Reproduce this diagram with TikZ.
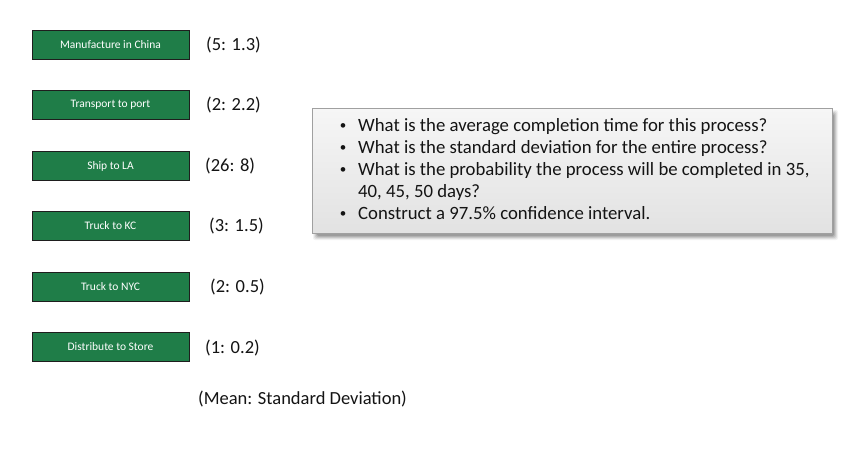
\documentclass[tikz,border=0pt]{standalone}
\usepackage{fontspec}
\setmainfont{Carlito}
\definecolor{boxgreen}{RGB}{31,125,72}
\definecolor{boxline}{RGB}{30,30,30}
\definecolor{callborder}{RGB}{160,160,160}
\definecolor{calltop}{RGB}{246,246,246}
\definecolor{callbot}{RGB}{226,226,226}
\definecolor{labeltext}{RGB}{20,20,20}
\begin{document}
\begin{tikzpicture}[x=1pt,y=-1pt,
  stepbox/.style={draw=boxline, line width=0.8pt, fill=boxgreen, text=white,
    minimum width=157pt, minimum height=29pt, inner sep=0pt,
    font=\fontsize{11.5}{13}\selectfont},
  statlabel/.style={anchor=base west, inner sep=0pt, text=labeltext,
    font=\fontsize{18.5}{22}\selectfont},
  qline/.style={anchor=base west, inner sep=0pt, text=labeltext,
    font=\fontsize{18.75}{22}\selectfont},
  qbullet/.style={anchor=base, inner sep=0pt, text=labeltext,
    font=\fontsize{13}{15}\selectfont}]
\useasboundingbox[fill=white] (0,0) rectangle (851,453);

% process steps
\node[stepbox] (s1) at (110.5,44.5) {Manufacture in China};
\node[stepbox] (s2) at (110.5,104.5) {Transport to port};
\node[stepbox] (s3) at (110.5,166) {Ship to LA};
\node[stepbox] (s4) at (110.5,225.5) {Truck to KC};
\node[stepbox] (s5) at (110.5,286.5) {Truck to NYC};
\node[stepbox] (s6) at (110.5,347) {Distribute to Store};

% mean : sd labels
\node[statlabel] (l1) at (206,50) {(5: 1.3)};
\node[statlabel] (l2) at (206,110) {(2: 2.2)};
\node[statlabel] (l3) at (205,171.5) {(26: 8)};
\node[statlabel] (l4) at (209,231) {(3: 1.5)};
\node[statlabel] (l5) at (210,292) {(2: 0.5)};
\node[statlabel] (l6) at (205,353) {(1: 0.2)};
\node[statlabel] (legend) at (198,404) {(Mean: Standard Deviation)};

% callout shadow
\foreach \d/\o in {6/0.05,5/0.07,4/0.09,3/0.11,2/0.13}{
  \fill[black,opacity=\o,rounded corners=2pt] (316-\d+3,112-\d+4) rectangle (832+\d,233+\d+1);
}
% callout box
\node[draw=callborder, line width=0.8pt, top color=calltop, bottom color=callbot,
  minimum width=520pt, minimum height=125pt, inner sep=0pt] (callout) at (572,170.5) {};

% questions
\node[qbullet] (b1) at (343,129) {•};
\node[qline] (q1) at (358,131) {What is the average completion time for this process?};
\node[qbullet] (b2) at (343,151) {•};
\node[qline] (q2) at (358,153) {What is the standard deviation for the entire process?};
\node[qbullet] (b3) at (343,173) {•};
\node[qline] (q3) at (358,175) {What is the probability the process will be completed in 35,};
\node[qline] (q3b) at (358,197) {40, 45, 50 days?};
\node[qbullet] (b4) at (343,217) {•};
\node[qline] (q4) at (358,219) {Construct a 97.5\% confidence interval.};
\end{tikzpicture}
\end{document}
